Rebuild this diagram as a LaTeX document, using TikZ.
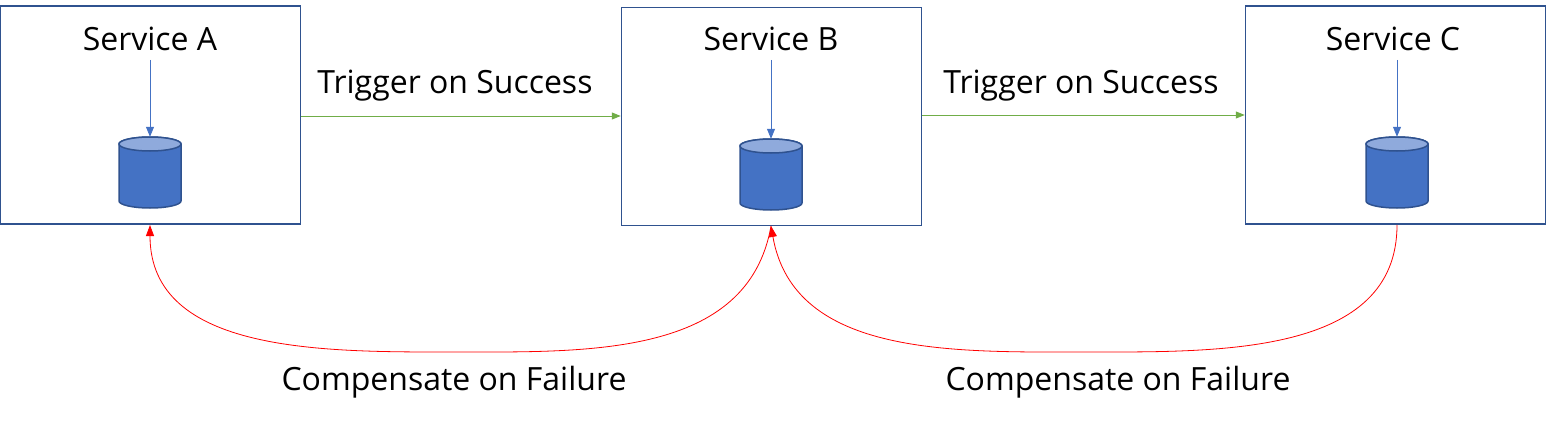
\documentclass[tikz,border=0pt]{standalone}
\usepackage{fontspec}
\setmainfont{Open Sans}
\usetikzlibrary{arrows.meta}
\definecolor{bx}{HTML}{2F528F}
\definecolor{cf}{HTML}{4472C4}
\definecolor{ct}{HTML}{8FAADC}
\definecolor{gr}{HTML}{70AD47}
\tikzset{
 svc/.style={draw=bx,line width=1.5pt,minimum width=300pt,minimum height=218pt,inner sep=0},
 dbc/.style={inner sep=0,minimum width=62pt,minimum height=71pt},
 lbl/.style={font=\fontsize{32}{34}\selectfont},
 tr/.style={draw=gr,line width=0.8pt,-{Triangle[length=9pt,width=7pt]}},
 cp/.style={draw=red,line width=0.8pt,-{Triangle[length=11pt,width=8pt]}},
 bl/.style={draw=cf,line width=0.8pt,-{Triangle[length=10pt,width=8pt]}}
}
\newcommand{\mycyl}[3]{% x, top y, name
 \fill[cf,draw=bx,line width=1.5pt] (#1-31,#2+7) -- (#1-31,#2+64) arc[start angle=180,end angle=360,x radius=31,y radius=-7] -- (#1+31,#2+7) arc[start angle=0,end angle=180,x radius=31,y radius=-7] -- cycle;
 \fill[ct,draw=bx,line width=1.5pt] (#1,#2+7) ellipse[x radius=31,y radius=7];
 \node[dbc] (#3) at (#1,#2+35.5) {};
}
\begin{document}
\begin{tikzpicture}[x=1pt,y=-1pt]
\useasboundingbox (0,0) rectangle (1548,428);
\node[svc] (A) at (150.5,115) {};
\node[svc] (B) at (771.5,116.5) {};
\node[svc] (C) at (1395.5,115) {};
\node[lbl] (ta) at (150,39) {Service A};
\node[lbl] (tb) at (771,39) {Service B};
\node[lbl] (tc) at (1393,39) {Service C};
\mycyl{150}{137}{da}
\mycyl{771}{139}{dbb}
\mycyl{1397}{137}{dc}
\draw[bl] (150,60) -- (da.north);
\draw[bl] (771,60) -- (dbb.north);
\draw[bl] (1397,60) -- (dc.north);
\draw[tr] (A.east |- 0,116) -- (B.west |- 0,116);
\draw[tr] (B.east |- 0,115) -- (C.west |- 0,115);
\node[lbl] (s1) at (455,86) {Trigger on Success};
\node[lbl] (s2) at (1081,86) {Trigger on Success};
\coordinate (cb) at (1397,225);
\coordinate (bb) at (771,226);
\coordinate (ab) at (150,225);
\draw[cp] (cb) to[out=-90,in=0] (1090,352) to[out=180,in=-80] (bb);
\draw[cp] (bb) to[out=-100,in=0] (455,352) to[out=180,in=-90] (ab);
\node[lbl] (f1) at (454,382) {Compensate on Failure};
\node[lbl] (f2) at (1118,382) {Compensate on Failure};
\end{tikzpicture}
\end{document}
